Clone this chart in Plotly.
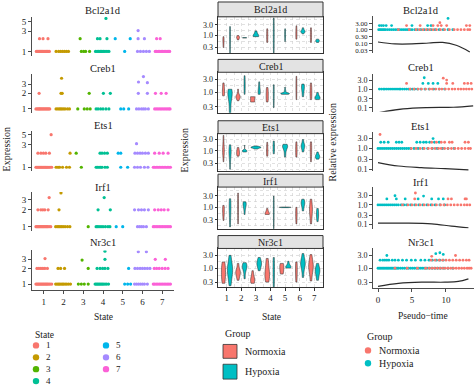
import numpy as np
import plotly.graph_objects as go

W, H = 474, 391
FONT = "Times New Roman, Liberation Serif, DejaVu Serif, serif"
TXT = "#1a1a1a"
AX = "#4d4d4d"

GENES = ["Bcl2a1d", "Creb1", "Ets1", "Irf1", "Nr3c1"]
STATES = [1, 2, 3, 4, 5, 6, 7]
STATE_COLORS = ["#F8766D", "#C49A00", "#53B400", "#00C094", "#00B6EB", "#A58AFF", "#FB61D7"]
GROUPS = ["Normoxia", "Hypoxia"]
GROUP_COLORS = {"Normoxia": "#F8766D", "Hypoxia": "#00BFC4"}

# ---------------- left panel: expression by state (jittered state, expression count) ----------------
bcl2a1d_x1 = [0.62, 0.68, 0.72, 0.78, 0.83, 0.88, 0.93, 0.97, 1.02, 1.07, 1.12, 1.17, 1.22, 1.28,
              1.62, 1.75, 1.85, 1.95, 2.05, 2.15, 2.25, 2.9, 3.02, 3.12, 3.32,
              3.62, 3.7, 3.78, 3.85, 3.9, 3.95, 4.02, 4.1, 4.2, 4.3, 5.1,
              5.75, 5.9, 6.05, 6.2, 6.35, 6.65, 6.72, 6.8, 6.88, 6.95, 7.02, 7.1, 7.18, 7.25, 7.32, 7.38]
bcl2a1d_x2 = [0.78, 0.96, 1.21, 2.84, 3.72, 3.85, 4.2, 4.62, 5.38, 5.78, 6.1, 6.72, 6.9]
bcl2a1d_hx = [4.15, 5.78]
bcl2a1d_hy = [6.0, 3.1]

creb1_x1 = [0.6, 0.66, 0.71, 0.76, 0.8, 0.85, 0.9, 0.95, 1.0, 1.05, 1.1, 1.15, 1.2, 1.25, 1.3,
            1.62, 1.7, 1.78, 1.85, 1.92, 2.0, 2.08, 2.2, 2.3, 2.72, 3.05, 3.2, 3.35,
            3.65, 3.75, 3.88, 4.0, 4.15, 4.3, 4.9, 5.05, 5.3, 5.7, 5.82, 5.95, 6.05, 6.15, 6.3,
            6.62, 6.7, 6.78, 6.86, 6.94, 7.02, 7.1, 7.18, 7.26, 7.34, 7.4]
creb1_x2 = [0.76, 1.87, 1.93, 3.3, 4.02, 4.37, 5.79, 6.25, 6.66, 6.95, 7.2]
creb1_hx = [1.9, 6.05, 5.8, 6.25]
creb1_hy = [3.9, 4.2, 3.3, 3.2]

ets1_x1 = [0.6, 0.65, 0.7, 0.75, 0.8, 0.85, 0.9, 0.95, 1.0, 1.05, 1.1, 1.15, 1.2, 1.26, 1.32, 1.4,
           1.62, 1.72, 1.8, 1.95, 2.15, 2.3, 2.9, 3.65, 3.72, 3.8, 3.88, 3.95, 4.1, 4.22, 4.9, 5.25,
           5.6, 5.75, 5.9, 6.1, 6.28, 6.55, 6.62, 6.7, 6.78, 6.86, 6.94, 7.02, 7.1, 7.18, 7.26, 7.34, 7.42]
ets1_x2 = [0.7, 0.85, 0.98, 1.1, 1.28, 2.33, 2.64, 3.85, 3.95, 4.08, 4.22, 4.77, 4.9,
           5.62, 5.75, 5.88, 6.0, 6.15, 6.3, 6.62, 6.85, 7.05, 7.3]
ets1_hx = [1.37, 5.7]
ets1_hy = [5.0, 3.2]

irf1_x1 = [0.6, 0.65, 0.7, 0.75, 0.8, 0.85, 0.9, 0.95, 1.0, 1.05, 1.1, 1.15, 1.2, 1.27, 1.35,
           1.6, 1.68, 1.75, 1.82, 1.9, 1.98, 2.08, 2.2, 2.32, 3.25,
           3.65, 3.72, 3.8, 3.9, 4.0, 4.12, 4.25, 4.35, 4.67, 5.0, 5.75, 5.85, 5.95, 6.05, 6.2,
           6.55, 6.62, 6.7, 6.78, 6.86, 6.94, 7.02, 7.1, 7.18, 7.26, 7.34, 7.42]
irf1_x2 = [0.7, 0.85, 0.95, 1.05, 1.22, 1.77, 3.75, 4.37, 5.6, 5.8, 5.95, 6.1, 6.3,
           6.62, 6.8, 6.95, 7.1, 7.3]
irf1_hx = [1.27, 1.87, 4.06]
irf1_hy = [3.3, 4.0, 3.3]

nr3c1_x1 = [0.6, 0.65, 0.7, 0.75, 0.8, 0.85, 0.9, 0.95, 1.0, 1.05, 1.1, 1.15, 1.2, 1.26, 1.32, 1.4,
            1.6, 1.67, 1.74, 1.8, 1.87, 1.94, 2.0, 2.08, 2.16, 2.25, 2.35, 2.75, 2.9, 3.05, 3.25,
            3.6, 3.66, 3.72, 3.78, 3.84, 3.9, 3.96, 4.02, 4.1, 4.18, 4.28, 5.1, 5.25, 5.4,
            5.6, 5.7, 5.8, 5.9, 6.0, 6.1, 6.25, 6.55, 6.62, 6.7, 6.78, 6.86, 6.94, 7.02, 7.1,
            7.18, 7.26, 7.34, 7.42]
nr3c1_x2 = [0.65, 0.75, 0.85, 0.95, 1.05, 1.18, 1.72, 1.85, 2.05, 3.25, 3.7, 3.85, 3.98, 4.1, 4.25,
            5.3, 5.62, 5.75, 5.88, 6.0, 6.12, 6.25, 6.38, 6.6, 6.72, 6.85, 7.0, 7.15, 7.3]
nr3c1_hx = [1.06, 2.94, 4.1, 4.1, 5.79, 6.2, 6.65, 7.16]
nr3c1_hy = [3.1, 2.9, 4.3, 3.0, 4.2, 4.2, 3.0, 3.0]

LEFT_DATA = [
    (bcl2a1d_x1, bcl2a1d_x2, bcl2a1d_hx, bcl2a1d_hy),
    (creb1_x1, creb1_x2, creb1_hx, creb1_hy),
    (ets1_x1, ets1_x2, ets1_hx, ets1_hy),
    (irf1_x1, irf1_x2, irf1_hx, irf1_hy),
    (nr3c1_x1, nr3c1_x2, nr3c1_hx, nr3c1_hy),
]

# ---------------- middle panel: violins (state, group, relative expression samples) ----------------
bcl2a1d_violins = [
    (1, "Normoxia", [0.3, 0.45, 0.6, 0.75, 0.9]),
    (1, "Hypoxia", [0.15, 0.3, 0.6, 1.0, 1.6, 2.5]),
    (2, "Normoxia", [0.65, 0.75, 0.8, 0.85, 0.9, 1.0]),
    (2, "Hypoxia", [0.78, 0.8, 0.82]),
    (3, "Hypoxia", [0.9, 0.92, 0.95, 1.0, 1.1, 1.3, 1.6]),
    (4, "Normoxia", [0.5, 0.8, 1.2, 2.0]),
    (4, "Hypoxia", [0.15, 0.4, 1.0, 2.5, 6.0]),
    (5, "Hypoxia", [0.55, 0.9, 1.3, 2.0]),
    (6, "Normoxia", [0.7, 1.0, 1.5, 2.7]),
    (6, "Hypoxia", [1.2, 1.4, 1.5, 1.5, 1.6, 1.8, 2.2]),
    (7, "Normoxia", [0.5, 0.8, 1.3, 2.2]),
    (7, "Hypoxia", [0.5, 0.55, 0.58, 0.6, 0.65, 0.7]),
]
creb1_violins = [
    (1, "Normoxia", [0.75, 0.9, 1.0, 1.3, 1.7, 2.2]),
    (1, "Hypoxia", [0.17, 0.3, 0.6, 0.8, 0.9, 1.0, 1.1, 1.3]),
    (2, "Normoxia", [0.5, 0.6, 0.65, 0.7, 0.7, 0.75, 0.9, 1.3]),
    (2, "Hypoxia", [0.85, 1.2, 1.8, 2.8, 4.0]),
    (3, "Normoxia", [0.45, 0.45, 0.47, 0.57, 0.68, 0.7, 0.7]),
    (3, "Hypoxia", [0.85, 0.9, 1.0, 1.2, 1.6, 2.4]),
    (4, "Normoxia", [0.45, 0.55, 0.7, 0.9, 1.2, 1.5]),
    (4, "Hypoxia", [0.28, 0.5, 0.9, 1.4, 1.9]),
    (5, "Hypoxia", [0.85, 0.87, 0.88, 0.9, 0.9, 0.92, 0.95, 1.0, 1.2, 1.5]),
    (6, "Normoxia", [0.55, 0.9, 1.5, 2.5, 3.8]),
    (6, "Hypoxia", [0.7, 0.9, 1.2, 1.5, 1.6, 1.7, 2.0]),
    (7, "Normoxia", [0.55, 0.7, 0.9, 1.2, 1.6, 2.2]),
    (7, "Hypoxia", [0.55, 0.6, 0.62, 0.65, 0.7, 0.8, 1.0]),
]
ets1_violins = [
    (1, "Normoxia", [0.35, 0.7, 0.9, 1.0, 1.1, 1.5, 2.5, 4.5]),
    (1, "Hypoxia", [0.17, 0.35, 0.6, 0.8, 0.9, 1.0, 1.3, 1.8]),
    (2, "Normoxia", [0.6, 0.7, 0.8, 0.9, 1.1, 1.4]),
    (2, "Hypoxia", [0.9, 0.95, 0.95, 1.0, 1.0, 1.05, 1.1, 1.7]),
    (3, "Hypoxia", [1.2, 1.3, 1.35, 1.4, 1.4, 1.45, 1.5, 1.6]),
    (4, "Normoxia", [0.6, 0.8, 1.0, 1.4, 2.3]),
    (4, "Hypoxia", [0.75, 1.0, 1.4, 1.9, 2.6]),
    (5, "Hypoxia", [0.55, 0.8, 1.1, 1.4, 1.5, 1.6, 1.6, 1.7, 1.9]),
    (6, "Normoxia", [0.55, 0.8, 1.1, 1.6, 2.4]),
    (6, "Hypoxia", [0.9, 1.2, 1.5, 1.6, 1.7, 2.0, 3.0]),
    (7, "Normoxia", [0.35, 0.6, 0.9, 1.3, 1.8, 2.4]),
    (7, "Hypoxia", [0.45, 0.5, 0.55, 0.6, 0.62, 0.7, 0.9]),
]
irf1_violins = [
    (1, "Normoxia", [0.28, 0.45, 0.6, 0.8, 1.0, 1.2]),
    (1, "Hypoxia", [0.15, 0.3, 0.6, 0.9, 1.2, 1.6, 2.3]),
    (2, "Normoxia", [0.2, 0.5, 1.0, 2.0, 4.0]),
    (2, "Hypoxia", [0.5, 0.8, 1.1, 1.3, 1.4, 1.5, 1.7]),
    (4, "Normoxia", [0.5, 0.5, 0.52, 0.55, 0.6, 0.7, 0.9]),
    (4, "Hypoxia", [0.12, 0.3, 0.8, 1.5, 3.0]),
    (5, "Hypoxia", [0.97, 1.0, 1.0, 1.03]),
    (6, "Normoxia", [0.2, 0.35, 0.5, 0.7, 1.0]),
    (6, "Hypoxia", [0.7, 1.0, 1.3, 1.5, 1.6, 1.8, 2.2]),
    (7, "Normoxia", [0.2, 0.4, 0.6, 0.8, 0.9, 1.3, 2.2]),
    (7, "Hypoxia", [0.25, 0.35, 0.45, 0.55, 0.7, 0.9]),
]
nr3c1_violins = [
    (1, "Normoxia", [0.27, 0.35, 0.5, 0.7, 0.9, 1.2, 1.7]),
    (1, "Hypoxia", [0.22, 0.4, 0.6, 0.8, 0.9, 1.1, 1.6, 3.0]),
    (2, "Normoxia", [0.35, 0.5, 0.6, 0.7, 0.75, 0.9, 1.5]),
    (2, "Hypoxia", [0.4, 0.7, 1.0, 1.1, 1.2, 1.3, 1.6]),
    (3, "Normoxia", [0.27, 0.3, 0.35, 0.4, 0.5, 0.8]),
    (3, "Hypoxia", [0.8, 1.1, 1.3, 1.5, 1.6, 1.9, 2.5]),
    (4, "Normoxia", [0.3, 0.4, 0.5, 0.55, 0.7, 1.0, 1.5, 2.3]),
    (4, "Hypoxia", [0.18, 0.4, 0.8, 1.5, 2.5]),
    (5, "Normoxia", [0.6, 0.7, 0.9, 1.1, 1.3, 1.5]),
    (5, "Hypoxia", [1.0, 1.05, 1.1, 1.15, 1.2, 1.4, 1.8]),
    (6, "Normoxia", [0.3, 0.5, 0.8, 1.2, 1.7]),
    (6, "Hypoxia", [0.45, 0.8, 1.2, 1.4, 1.5, 1.7, 2.2, 3.5]),
    (7, "Normoxia", [0.33, 0.6, 0.9, 1.1, 1.2, 1.4, 2.0, 3.2]),
    (7, "Hypoxia", [0.35, 0.5, 0.7, 0.8, 0.85, 1.0, 1.5]),
]
MID_DATA = [bcl2a1d_violins, creb1_violins, ets1_violins, irf1_violins, nr3c1_violins]
# drawing widths of the violins (style, data units)
VIOLIN_WIDTHS = [
    [0.08, 0.06, 0.2, 0.3, 0.4, 0.08, 0.06, 0.06, 0.08, 0.3, 0.08, 0.25],
    [0.15, 0.3, 0.3, 0.08, 0.3, 0.15, 0.15, 0.06, 0.6, 0.06, 0.2, 0.12, 0.35],
    [0.12, 0.15, 0.2, 0.35, 0.7, 0.1, 0.1, 0.35, 0.1, 0.25, 0.1, 0.3],
    [0.12, 0.12, 0.06, 0.22, 0.3, 0.05, 0.8, 0.1, 0.25, 0.2, 0.15],
    [0.28, 0.36, 0.32, 0.32, 0.28, 0.32, 0.32, 0.1, 0.28, 0.36, 0.12, 0.32, 0.32, 0.32],
]

# ---------------- right panel: expression along pseudo-time ----------------
bcl2a1d_hyp1 = [0.1, 0.3, 0.5, 0.7, 0.9, 1.1, 1.4, 1.7, 2.0, 2.3, 2.6, 2.9, 3.2, 3.5, 3.8, 4.1, 4.4,
                4.7, 5.0, 5.4, 5.8, 6.3, 6.8, 7.3, 7.8, 8.4, 9.0, 9.6, 10.3, 11.0]
bcl2a1d_nor1 = [3.0, 4.6, 5.6, 6.1, 6.6, 7.1, 7.6, 8.1, 8.6, 9.2, 9.8, 10.5, 11.2, 11.7, 12.2,
                12.7, 13.2, 13.5]
bcl2a1d_hyp2 = [0.2, 0.5, 0.8, 1.2, 2.0, 5.0, 7.3, 7.8]
bcl2a1d_nor2 = [4.2, 6.2, 8.1, 8.8, 9.3, 10.1, 13.0, 13.5]
bcl2a1d_ext = [(10.3, 6.5, "Hypoxia"), (9.1, 3.2, "Normoxia")]
bcl2a1d_smooth_t = [0, 2.5, 5, 7.5, 9.5, 11.5, 13.5]
bcl2a1d_smooth_v = [0.13, 0.095, 0.095, 0.11, 0.12, 0.075, 0.025]

creb1_hyp1 = [0.2, 0.5, 0.8, 1.0, 1.3, 1.6, 1.9, 2.2, 2.5, 2.8, 3.1, 3.3, 3.6, 3.9, 4.2, 4.5, 4.8,
              5.1, 5.4, 5.8, 6.3, 6.9, 7.5, 8.2, 9.0, 9.8]
creb1_nor1 = [4.7, 5.3, 5.9, 6.4, 7.0, 7.6, 8.0, 8.5, 9.0, 9.4, 9.9, 10.4, 10.9, 11.3, 11.8, 12.2,
              12.6, 13.0, 13.4, 13.8]
creb1_hyp2 = [6.6, 7.4, 8.1, 8.8]
creb1_nor2 = [4.2, 10.1, 11.0, 12.7, 13.2, 13.7]
creb1_ext = [(6.8, 4.0, "Hypoxia"), (9.6, 3.8, "Normoxia"), (10.1, 3.0, "Normoxia")]
creb1_smooth_t = [0, 3.7, 7.2, 11.1, 14.0]
creb1_smooth_v = [0.055, 0.088, 0.104, 0.108, 0.128]

ets1_hyp1 = [0.0, 0.3, 0.6, 0.9, 1.2, 1.5, 1.8, 2.1, 2.4, 2.7, 3.0, 3.3, 3.6, 3.9, 4.2, 4.5, 4.8,
             5.3, 5.9, 6.6, 7.3, 8.0, 8.7, 9.5, 10.3, 11.2]
ets1_nor1 = [4.9, 5.6, 6.2, 6.8, 7.4, 7.9, 8.4, 8.9, 9.3, 9.8, 10.3, 10.8, 11.3, 11.8, 12.3, 12.8,
             13.3, 13.6]
ets1_hyp2 = [0.4, 0.9, 1.5, 2.7, 3.1, 3.5, 5.7, 6.2, 6.7, 7.1, 7.6, 8.3, 9.0]
ets1_nor2 = [7.9, 8.6, 9.3, 9.8, 10.5, 10.9, 12.8, 13.3]
ets1_ext = [(0.3, 4.7, "Normoxia"), (8.1, 3.0, "Hypoxia")]
ets1_smooth_t = [0, 3.0, 6.4, 9.85, 13.3]
ets1_smooth_v = [0.21, 0.144, 0.12, 0.107, 0.093]

irf1_hyp1 = [0.0, 0.3, 0.6, 0.9, 1.2, 1.5, 1.8, 2.1, 2.4, 2.7, 3.0, 3.4, 3.8, 4.2, 4.8, 5.4, 6.0,
             6.6, 7.2, 7.8, 8.4, 9.1, 9.8]
irf1_nor1 = [3.6, 4.4, 5.0, 5.6, 6.2, 6.8, 7.4, 8.0, 8.6, 9.2, 9.7, 10.2, 10.7, 11.2, 11.7, 12.2,
             12.7, 13.1, 13.5]
irf1_hyp2 = [1.3, 2.7, 4.0, 5.9, 7.9, 8.9, 9.6]
irf1_nor2 = [5.4, 10.3, 10.8, 12.8, 13.0]
irf1_ext = [(2.5, 2.9, "Hypoxia"), (6.7, 2.8, "Hypoxia"), (5.5, 4.0, "Normoxia")]
irf1_smooth_t = [0, 4.0, 7.9, 10.8, 13.3]
irf1_smooth_v = [0.12, 0.12, 0.11, 0.085, 0.07]

nr3c1_hyp1 = [0.0, 0.2, 0.4, 0.6, 0.8, 1.0, 1.2, 1.4, 1.6, 1.8, 2.0, 2.2, 2.4, 2.6, 2.8, 3.0, 3.3,
              3.6, 3.9, 4.2, 4.5, 4.8, 5.1, 5.4, 5.7, 6.0, 6.3, 6.6, 6.9, 7.2, 7.6, 8.0, 8.4, 8.8,
              9.2, 9.7, 10.3, 11.0]
nr3c1_nor1 = [2.5, 4.3, 5.8, 7.0, 7.5, 7.9, 8.3, 8.7, 9.1, 9.5, 9.9, 10.3, 10.7, 11.1, 11.5, 11.9,
              12.3, 12.7, 13.1, 13.4, 13.7]
nr3c1_hyp2 = [0.3, 0.7, 1.0, 1.3, 1.6, 2.1, 2.5, 3.0, 3.6, 4.2, 4.9, 5.5, 6.3, 6.9, 7.5, 8.0, 8.6,
              9.1, 9.6]
nr3c1_nor2 = [7.8, 8.4, 9.0, 9.5, 10.0, 10.5, 11.0, 11.5, 12.0, 12.5, 13.0, 13.4]
nr3c1_ext = [(1.3, 3.0, "Hypoxia"), (8.5, 3.5, "Hypoxia"), (9.1, 3.8, "Hypoxia"),
             (9.6, 3.3, "Hypoxia"), (11.4, 3.0, "Normoxia"), (7.9, 2.8, "Normoxia")]
nr3c1_smooth_t = [0, 3.0, 6.4, 9.85, 11.8, 13.3]
nr3c1_smooth_v = [0.21, 0.27, 0.3, 0.3, 0.32, 0.4]

RIGHT_DATA = [
    (bcl2a1d_hyp1, bcl2a1d_nor1, bcl2a1d_hyp2, bcl2a1d_nor2, bcl2a1d_ext, bcl2a1d_smooth_t, bcl2a1d_smooth_v),
    (creb1_hyp1, creb1_nor1, creb1_hyp2, creb1_nor2, creb1_ext, creb1_smooth_t, creb1_smooth_v),
    (ets1_hyp1, ets1_nor1, ets1_hyp2, ets1_nor2, ets1_ext, ets1_smooth_t, ets1_smooth_v),
    (irf1_hyp1, irf1_nor1, irf1_hyp2, irf1_nor2, irf1_ext, irf1_smooth_t, irf1_smooth_v),
    (nr3c1_hyp1, nr3c1_nor1, nr3c1_hyp2, nr3c1_nor2, nr3c1_ext, nr3c1_smooth_t, nr3c1_smooth_v),
]

# ---------------- layout geometry (pixels) ----------------
LEFT_X = (32, 174)
LEFT_ROWS = [(16, 56), (74, 113), (131, 172), (193, 232), (252, 292)]
LEFT_YR = [(-0.117, 0.816), (-0.076, 0.668), (-0.085, 0.784), (-0.071, 0.618), (-0.115, 0.649)]
LEFT_TICKS = [[1, 3, 5], [1, 2, 3], [1, 3, 5], [1, 2, 3], [1, 2, 3]]
LEFT_TITLE_Y = [10, 68, 126, 188, 244]

MID_X = (218, 323)
MID_ROWS = [(16, 53), (72, 113), (134, 172), (188, 230), (250, 289)]
MID_YR = [(-0.784, 0.825), (-0.737, 0.727), (-0.856, 0.727), (-0.898, 0.852), (-0.708, 0.736)]
MID_STRIPS = [(1, 16), (59, 72), (121, 134), (175, 188), (237, 250)]
MID_TICKS = [0.3, 1.0, 3.0]

RIGHT_X = (373, 474)
RIGHT_ROWS = [(15, 53), (74, 112), (132, 172), (188, 230), (250, 290)]
RIGHT_YR = [(-1.714, 1.0), (-1.21, 0.789), (-1.095, 0.81), (-1.2, 0.9), (-0.741, 0.741)]
RIGHT_TICKS = [[0.03, 0.1, 0.3, 1, 3], [0.1, 0.3, 1, 3], [0.1, 0.3, 1, 3], [0.1, 0.3, 1, 3], [0.3, 1, 3]]
RIGHT_TICKTEXT = [["0.03", "0.10", "0.30", "1.00", "3.00"], ["0.1", "0.3", "1.0", "3.0"],
                  ["0.1", "0.3", "1.0", "3.0"], ["0.1", "0.3", "1.0", "3.0"], ["0.3", "1.0", "3.0"]]
RIGHT_TITLE_Y = [10, 67, 127, 183, 244]

fig = go.Figure()
layout = dict(width=W, height=H, autosize=False, margin=dict(l=0, r=0, t=0, b=0),
              paper_bgcolor="white", plot_bgcolor="rgba(0,0,0,0)", showlegend=False,
              violinmode="overlay", font=dict(family=FONT, size=9, color=TXT))
shapes = []
annotations = []
counter = [0]


def add_axes(xpx, ypx, xkw, ykw):
    counter[0] += 1
    n = "" if counter[0] == 1 else str(counter[0])
    layout["xaxis" + n] = dict(domain=[xpx[0] / W, xpx[1] / W], anchor="y" + n, **xkw)
    layout["yaxis" + n] = dict(domain=[1 - ypx[1] / H, 1 - ypx[0] / H], anchor="x" + n, **ykw)
    return "x" + n, "y" + n


def text(px, py, s, size=9, xanchor="center", angle=0):
    annotations.append(dict(x=px / W, y=1 - py / H, xref="paper", yref="paper", text=s,
                            showarrow=False, xanchor=xanchor, yanchor="middle", textangle=angle,
                            font=dict(family=FONT, size=size, color=TXT)))


def state_color(v):
    return STATE_COLORS[int(np.floor(v + 0.5)) - 1]


tickfont = dict(family=FONT, size=9, color=TXT)
smallfont = dict(family=FONT, size=8, color=TXT)

# ---- left panel ----
for i, g in enumerate(GENES):
    last = i == len(GENES) - 1
    xkw = dict(range=[0.4, 7.6], showgrid=False, zeroline=False)
    if last:
        xkw.update(showline=True, linecolor=AX, linewidth=1, ticks="outside", ticklen=3,
                   tickcolor=AX, tickvals=STATES, tickfont=tickfont)
    else:
        xkw.update(visible=False)
    ykw = dict(type="log", range=list(LEFT_YR[i]), showgrid=False, zeroline=False, showline=True,
               linecolor=AX, linewidth=1, ticks="outside", ticklen=3, tickcolor=AX,
               tickvals=LEFT_TICKS[i], ticktext=[str(t) for t in LEFT_TICKS[i]], tickfont=tickfont)
    xa, ya = add_axes(LEFT_X, LEFT_ROWS[i], xkw, ykw)
    x1, x2, hx, hy = LEFT_DATA[i]
    xs = list(x1) + list(x2) + list(hx)
    ys = [1] * len(x1) + [2] * len(x2) + list(hy)
    fig.add_trace(go.Scatter(x=xs, y=ys, mode="markers", xaxis=xa, yaxis=ya,
                             marker=dict(size=3.2, color=[state_color(v) for v in xs], line=dict(width=0)),
                             hoverinfo="skip"))
    text((LEFT_X[0] + LEFT_X[1]) / 2, LEFT_TITLE_Y[i], g, size=10.5)

# ---- middle panel ----
for i, g in enumerate(GENES):
    last = i == len(GENES) - 1
    grid = dict(showgrid=True, gridcolor="#cdcdcd", gridwidth=0.6, griddash="dot")
    xkw = dict(range=[0.4, 7.6], zeroline=False, showline=True, mirror=True, linecolor="#333",
               linewidth=1, tickvals=STATES, tickfont=tickfont,
               minor=dict(tickmode="array", tickvals=[1.5, 2.5, 3.5, 4.5, 5.5, 6.5], **grid), **grid)
    if last:
        xkw.update(ticks="outside", ticklen=2.5, tickcolor="#333")
    else:
        xkw.update(showticklabels=False, ticks="")
    lt = [float(np.log10(t)) for t in MID_TICKS]
    ykw = dict(range=list(MID_YR[i]), zeroline=False, showline=True, mirror=True, linecolor="#333",
               linewidth=1, tickvals=lt, ticktext=["0.3", "1.0", "3.0"], ticks="outside", ticklen=2.5,
               tickcolor="#333", tickfont=smallfont,
               minor=dict(tickmode="array", tickvals=[lt[0] - 0.26, (lt[0] + lt[1]) / 2,
                                                      (lt[1] + lt[2]) / 2, lt[2] + 0.24], **grid), **grid)
    xa, ya = add_axes(MID_X, MID_ROWS[i], xkw, ykw)
    entries = MID_DATA[i]
    for j, (st, grp, vals) in enumerate(entries):
        n_groups = sum(1 for e in entries if e[0] == st)
        if n_groups == 1:
            pos = st
        else:
            pos = st - 0.225 if grp == "Normoxia" else st + 0.225
        lv = [float(np.log10(v)) for v in vals]
        fig.add_trace(go.Violin(x=[pos] * len(lv), y=lv, xaxis=xa, yaxis=ya, width=VIOLIN_WIDTHS[i][j],
                                spanmode="hard", points=False, scalemode="width",
                                fillcolor=GROUP_COLORS[grp], line=dict(color="#262626", width=0.5),
                                box=dict(visible=False), meanline=dict(visible=False),
                                opacity=1, hoverinfo="skip", orientation="v"))
    s0, s1 = MID_STRIPS[i]
    shapes.append(dict(type="rect", xref="paper", yref="paper", x0=MID_X[0] / W, x1=MID_X[1] / W,
                       y0=1 - s1 / H, y1=1 - s0 / H, fillcolor="#e3e3e3",
                       line=dict(color="#333", width=1), layer="above"))
    text((MID_X[0] + MID_X[1]) / 2, (s0 + s1) / 2 + 0.5, g, size=10)

# ---- right panel ----
for i, g in enumerate(GENES):
    last = i == len(GENES) - 1
    xkw = dict(range=[-0.735, 14.12], showgrid=False, zeroline=False)
    if last:
        xkw.update(showline=True, linecolor=AX, linewidth=1, ticks="outside", ticklen=3,
                   tickcolor=AX, tickvals=[0, 5, 10], tickfont=tickfont)
    else:
        xkw.update(visible=False)
    ykw = dict(type="log", range=list(RIGHT_YR[i]), showgrid=False, zeroline=False, showline=True,
               linecolor=AX, linewidth=1, ticks="outside", ticklen=3, tickcolor=AX,
               tickvals=RIGHT_TICKS[i], ticktext=RIGHT_TICKTEXT[i],
               tickfont=dict(family=FONT, size=7 if i == 0 else 8, color=TXT))
    xa, ya = add_axes(RIGHT_X, RIGHT_ROWS[i], xkw, ykw)
    hyp1, nor1, hyp2, nor2, ext, st_t, st_v = RIGHT_DATA[i]
    hx = list(hyp1) + list(hyp2) + [e[0] for e in ext if e[2] == "Hypoxia"]
    hy = [1] * len(hyp1) + [2] * len(hyp2) + [e[1] for e in ext if e[2] == "Hypoxia"]
    nx = list(nor1) + list(nor2) + [e[0] for e in ext if e[2] == "Normoxia"]
    ny = [1] * len(nor1) + [2] * len(nor2) + [e[1] for e in ext if e[2] == "Normoxia"]
    fig.add_trace(go.Scatter(x=hx, y=hy, mode="markers", xaxis=xa, yaxis=ya, hoverinfo="skip",
                             marker=dict(size=2.8, color=GROUP_COLORS["Hypoxia"], line=dict(width=0))))
    fig.add_trace(go.Scatter(x=nx, y=ny, mode="markers", xaxis=xa, yaxis=ya, hoverinfo="skip",
                             marker=dict(size=2.8, color=GROUP_COLORS["Normoxia"], line=dict(width=0))))
    fig.add_trace(go.Scatter(x=st_t, y=st_v, mode="lines", xaxis=xa, yaxis=ya, hoverinfo="skip",
                             line=dict(color="#2b2b2b", width=1.2, shape="spline", smoothing=1.0)))
    text((RIGHT_X[0] + RIGHT_X[1]) / 2 - 3, RIGHT_TITLE_Y[i], g, size=10.5)

# ---- axis titles ----
text(6, 150, "Expression", size=10, angle=-90)
text(184, 151, "Expression", size=10, angle=-90)
text(333, 143, "Relative expression", size=10, angle=-90)
text(103, 319, "State", size=9.5)
text(271, 319, "State", size=9.5)
text(423, 318, "Pseudo\u2212time", size=9.5)

# ---- legends ----
text(33, 337, "State", size=9.5, xanchor="left")
leg_pos = [(36, 348), (36, 360), (36, 372), (36, 384), (106, 348), (106, 360), (106, 372)]
for st, (cx, cy) in zip(STATES, leg_pos):
    shapes.append(dict(type="circle", xref="paper", yref="paper", x0=(cx - 3.2) / W, x1=(cx + 3.2) / W,
                       y0=1 - (cy + 3.2) / H, y1=1 - (cy - 3.2) / H,
                       fillcolor=STATE_COLORS[st - 1], line=dict(width=0)))
    text(cx + 8, cy, str(st), size=9, xanchor="left")

text(223, 336, "Group", size=10, xanchor="left")
for grp, (y0, y1) in zip(GROUPS, [(347, 361), (367, 382)]):
    shapes.append(dict(type="rect", xref="paper", yref="paper", x0=223 / W, x1=237 / W,
                       y0=1 - y1 / H, y1=1 - y0 / H, fillcolor=GROUP_COLORS[grp],
                       line=dict(color="#333", width=0.8)))
    text(243, (y0 + y1) / 2, grp, size=10, xanchor="left")

text(365, 339, "Group", size=10, xanchor="left")
for grp, cy in zip(GROUPS, [353, 366]):
    shapes.append(dict(type="circle", xref="paper", yref="paper", x0=(368 - 3.2) / W, x1=(368 + 3.2) / W,
                       y0=1 - (cy + 3.2) / H, y1=1 - (cy - 3.2) / H,
                       fillcolor=GROUP_COLORS[grp], line=dict(width=0)))
    text(377, cy, grp, size=10, xanchor="left")

layout["shapes"] = shapes
layout["annotations"] = annotations
fig.update_layout(**layout)
fig.write_html("out.html", config={"displayModeBar": False, "staticPlot": True},
               post_script="document.body.style.margin='0';document.body.style.padding='0';")
